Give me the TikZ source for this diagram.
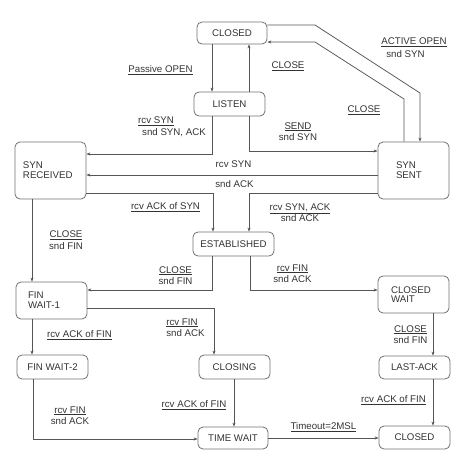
\documentclass[tikz,border=0pt]{standalone}
\usepackage{fontspec}
\setmainfont{Liberation Sans}
\usetikzlibrary{arrows.meta}
\definecolor{txt}{HTML}{333333}
\definecolor{ln}{HTML}{555555}
\definecolor{bx}{HTML}{707070}
\begin{document}
\begin{tikzpicture}[x=1pt,y=-1pt,
  state/.style={draw=bx, line width=0.8pt, rounded corners=5pt, minimum width=71pt, minimum height=24pt,
    inner sep=0pt, text=txt, font={\fontsize{9.7}{9.7}\selectfont}},
  mstate/.style={state, align=left, inner ysep=0pt},
  lbl/.style={text=txt, inner sep=0pt, align=center, font={\fontsize{9.7}{11.5}\selectfont}},
  lbll/.style={lbl, align=left},
  arr/.style={draw=ln, line width=0.75pt, -{Stealth[length=4pt,width=3pt]}}]
\useasboundingbox (0,0) rectangle (474,459);

% states
\node[state, minimum width=70pt, minimum height=22pt] (closedT) at (232,33) {CLOSED};
\node[state] (listen) at (229.5,104) {LISTEN};
\node[mstate, minimum height=57pt, inner xsep=8pt, text width=55pt] (synrcvd) at (50.5,170.5) {SYN\\RECEIVED};
\node[mstate, minimum height=57pt, inner xsep=18pt, text width=35pt] (synsent) at (413.5,170.5) {SYN\\SENT};
\node[state, minimum width=81pt] (estab) at (233.5,244) {ESTABLISHED};
\node[mstate, minimum height=37pt, inner xsep=13pt, text width=45pt] (closewait) at (413.5,294.5) {CLOSED\\WAIT};
\node[mstate, minimum height=37pt, inner xsep=12pt, text width=47pt] (finw1) at (51.5,300.5) {FIN\\WAIT-1};
\node[state] (finw2) at (52.5,367) {FIN WAIT-2};
\node[state] (closing) at (234.5,367) {CLOSING};
\node[state, minimum width=70pt, minimum height=22pt] (timewait) at (233,438) {TIME WAIT};
\node[state, minimum height=23pt] (lastack) at (414.5,367.5) {LAST-ACK};
\node[state, minimum height=23pt] (closedB) at (414.5,437.5) {CLOSED};

% helper coordinates
\coordinate (x212) at (212,0);
\coordinate (x249) at (249,0);
\coordinate (p1) at (315,25);
\coordinate (p2) at (420,93);
\coordinate (q1) at (404,99);
\coordinate (q2) at (315,42);
\coordinate (r1) at (212,154);
\coordinate (r2) at (249,151);
\coordinate (r3) at (0,175);
\coordinate (r4) at (213,193);
\coordinate (r5) at (249,193);
\coordinate (r6) at (32,0);
\coordinate (r7) at (212,290);
\coordinate (r8) at (250,290);
\coordinate (r9) at (214,308);
\coordinate (r10) at (33,439);
\coordinate (r11) at (234,0);
\coordinate (r12) at (0,438);
\coordinate (r13) at (433,0);

% connectors
\draw[arr] (closedT.south -| x212) -- (listen.north -| x212);
\draw[arr] (listen.north -| x249) -- (closedT.south -| x249);
\draw[arr] (closedT.east |- p1) -- (p1) -- (p2) -- (synsent.north -| p2);
\draw[arr] (synsent.north -| q1) -- (q1) -- (q2) -- (closedT.east |- q2);
\draw[arr] (listen.south -| r1) -- (r1) -- (synrcvd.east |- r1);
\draw[arr] (listen.south -| r2) -- (r2) -- (synsent.west |- r2);
\draw[arr] (synsent.west |- r3) -- (synrcvd.east |- r3);
\draw[arr] (synrcvd.east |- r4) -- (r4) -- (estab.north -| r4);
\draw[arr] (synsent.west |- r5) -- (r5) -- (estab.north -| r5);
\draw[arr] (synrcvd.south -| r6) -- (finw1.north -| r6);
\draw[arr] (estab.south -| r7) -- (r7) -- (finw1.east |- r7);
\draw[arr] (estab.south -| r8) -- (r8) -- (closewait.west |- r8);
\draw[arr] (finw1.south -| r6) -- (finw2.north -| r6);
\draw[arr] (finw1.east |- r9) -- (r9) -- (closing.north -| r9);
\draw[arr] (finw2.south -| r10) -- (r10) -- (timewait.west |- r10);
\draw[arr] (closing.south -| r11) -- (timewait.north -| r11);
\draw[arr] (timewait.east |- r12) -- (closedB.west |- r12);
\draw[arr] (closewait.south -| r13) -- (lastack.north -| r13);
\draw[arr] (lastack.south -| r13) -- (closedB.north -| r13);

% labels
\node[lbl] (lPassive) at (160.5,70) {\underline{Passive OPEN}};
\node[lbl] (lClose1) at (288,66) {\underline{CLOSE}};
\node[lbll, font={\fontsize{9.7}{13}\selectfont}] (lActive) at (414,47.5) {\underline{ACTIVE OPEN}\\\hspace*{5pt}snd SYN};
\node[lbl] (lClose2) at (364,110) {\underline{CLOSE}};
\node[lbll] (lRcvSyn) at (172,126.5) {\underline{rcv SYN}\\\hspace*{4pt}snd SYN, ACK};
\node[lbl] (lSend) at (298,131.5) {\underline{SEND}\\snd SYN};
\node[lbl] (lRcvSyn2) at (233.5,164) {rcv SYN};
\node[lbl] (lSndAck) at (234.5,184) {snd ACK};
\node[lbl] (lAckSyn) at (165.5,207) {\underline{rcv ACK of SYN}};
\node[lbl] (lSynAck) at (300,212.5) {\underline{rcv SYN, ACK}\\snd ACK};
\node[lbl] (lClose3) at (66,240) {\underline{CLOSE}\\snd FIN};
\node[lbl] (lClose4) at (175.5,275.5) {\underline{CLOSE}\\snd FIN};
\node[lbl] (lRcvFin1) at (292.5,273.5) {\underline{rcv FIN}\\snd ACK};
\node[lbl] (lAckFin1) at (79.5,335) {\underline{rcv ACK of FIN}};
\node[lbll] (lRcvFin2) at (185.5,327.5) {\underline{rcv FIN}\\snd ACK};
\node[lbl] (lRcvFin3) at (70,415.5) {\underline{rcv FIN}\\snd ACK};
\node[lbl] (lAckFin2) at (194,405) {\underline{rcv ACK of FIN}};
\node[lbl] (lTimeout) at (323.5,427) {\underline{Timeout=2MSL}};
\node[lbl] (lClose5) at (410.5,334.5) {\underline{CLOSE}\\snd FIN};
\node[lbl] (lAckFin3) at (393.5,400) {\underline{rcv ACK of FIN}};
\end{tikzpicture}
\end{document}
